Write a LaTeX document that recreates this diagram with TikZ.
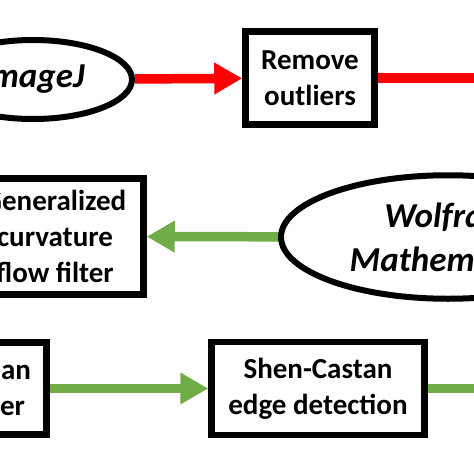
\documentclass[tikz,border=0pt]{standalone}
\usepackage{fontspec}
\setmainfont{Carlito}
\usetikzlibrary{shapes.geometric,arrows.meta}
\definecolor{flowred}{RGB}{255,0,0}
\definecolor{flowgreen}{RGB}{112,173,71}
\tikzstyle{stepbox}=[draw,line width=6.5pt,rectangle,align=center,inner sep=0pt,font=\fontsize{29}{36}\selectfont\bfseries]
\tikzstyle{toolell}=[draw,line width=6pt,ellipse,align=center,inner sep=0pt,font=\fontsize{35}{44}\selectfont\bfseries\itshape]
\tikzstyle{redflow}=[draw=flowred,line width=9.5pt]
\tikzstyle{greenflow}=[draw=flowgreen,line width=9.5pt]
\tikzstyle{tip}=[-{Triangle[length=28pt,width=30pt]}]

\begin{document}
\begin{tikzpicture}[x=1pt,y=-1pt]
    \useasboundingbox (0,0) rectangle (474,474);
    \clip (0,0) rectangle (474,474);
    \fill[white] (0,0) rectangle (474,474);
    % top row
    \node[toolell,minimum width=198pt,minimum height=79pt] (imagej) at (33,79.5) {ImageJ};
    \node[stepbox,minimum width=129pt,minimum height=93pt] (outl) at (310,78) {Remove\\outliers};
    \coordinate (outlnext) at (520,78);
    % middle row
    \node[toolell,minimum width=334pt,minimum height=123.5pt] (wolfram) at (448,237) {Wolfram\\Mathematica};
    \node[stepbox,minimum width=177pt,minimum height=116pt] (gcf) at (55,236.5) {Generalized\\curvature\\flow filter};
    % bottom row
    \node[stepbox,minimum width=101pt,minimum height=92pt] (mean) at (-4,388.5) {Mean\\filter};
    \node[stepbox,minimum width=213pt,minimum height=93pt] (shen) at (318,388.5) {Shen-Castan\\edge detection};
    \coordinate (shennext) at (520,388.5);

    \draw[redflow,tip] (imagej) -- (outl);
    \draw[redflow] (outl) -- (outlnext);
    \draw[greenflow,tip] (wolfram) -- (gcf);
    \draw[greenflow,tip] (mean) -- (shen);
    \draw[greenflow] (shen) -- (shennext);
\end{tikzpicture}
\end{document}
